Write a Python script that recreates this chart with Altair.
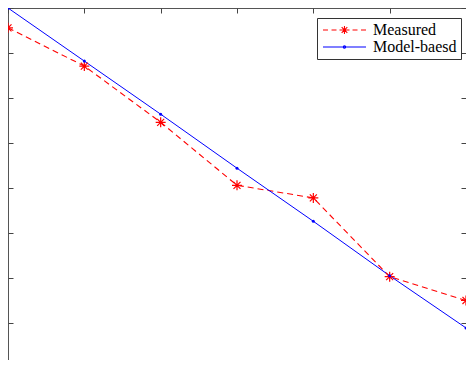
import altair as alt
import pandas as pd

# ---- data ----
x_vals = [0, 1, 2, 3, 4, 5, 6]
measured = [7.56, 6.71, 5.46, 4.06, 3.78, 2.03, 1.50]
model = [8.00, 6.82, 5.64, 4.44, 3.26, 2.05, 0.89]
series_names = ["Measured", "Model-baesd"]
series_colors = ["#ff0000", "#0000ff"]
x_ticks = [0, 1, 2, 3, 4, 5, 6]
y_ticks = [0, 1, 2, 3, 4, 5, 6, 7, 8]

df = pd.DataFrame({
    "x": x_vals + x_vals,
    "y": measured + model,
    "series": [series_names[0]] * len(x_vals) + [series_names[1]] * len(x_vals),
})

ASTERISK = "M-1,0L1,0M0,-1L0,1M-0.7,-0.7L0.7,0.7M-0.7,0.7L0.7,-0.7"
# legend symbols (unit = 6 px), drawn wider than the nominal symbol box
LEG_MEAS = ("M-1,0L-0.17,0M0.42,0L1.25,0M1.75,0L3.42,0M3.92,0L4.75,0M5.33,0L6.17,0"
            "M1.92,0L3.25,0M2.58,-0.67L2.58,0.67M2.11,-0.47L3.05,0.47M2.11,0.47L3.05,-0.47")
LEG_MODEL = ("M-1,0L6.17,0M2.38,0A0.2,0.2,0,1,0,2.78,0A0.2,0.2,0,1,0,2.38,0")

W, H = 458, 360
xs = alt.Scale(domain=[0, 6], nice=False, zero=False)
ys = alt.Scale(domain=[0, 8], nice=False, zero=False)

ax = dict(labels=False, domain=False, grid=False, ticks=True, tickSize=5,
          offset=-5, tickColor="#444", tickWidth=1, title=None)

base = alt.Chart(df)

frame_axes = base.mark_point(opacity=0).encode(
    x=alt.X("x:Q", scale=xs, axis=alt.Axis(orient="bottom", values=x_ticks, **ax)),
    y=alt.Y("y:Q", scale=ys, axis=alt.Axis(orient="left", values=y_ticks, **ax)),
)
frame_axes2 = base.mark_point(opacity=0).encode(
    x=alt.X("x:Q", scale=xs, axis=alt.Axis(orient="top", values=x_ticks, **ax)),
    y=alt.Y("y:Q", scale=ys, axis=alt.Axis(orient="right", values=y_ticks, **ax)),
)

xe = alt.X("x:Q", scale=xs, axis=None)
ye = alt.Y("y:Q", scale=ys, axis=None)

meas = base.transform_filter(alt.datum.series == series_names[0])
mod = base.transform_filter(alt.datum.series == series_names[1])

meas_line = meas.mark_line(color=series_colors[0], strokeWidth=1.1,
                           strokeDash=[6, 4]).encode(x=xe, y=ye)
meas_pts = meas.mark_point(shape=ASTERISK, filled=False, color=series_colors[0],
                           size=100, strokeWidth=1.2, opacity=1).encode(x=xe, y=ye)
mod_line = mod.mark_line(color=series_colors[1], strokeWidth=1).encode(x=xe, y=ye)
mod_pts = mod.mark_point(shape="circle", filled=True, color=series_colors[1],
                         size=9, opacity=1).encode(x=xe, y=ye)

legend_layer = base.mark_point(opacity=0, filled=False, size=144, strokeWidth=1.1).encode(
    x=xe, y=ye,
    color=alt.Color("series:N", scale=alt.Scale(domain=series_names, range=series_colors),
                    legend=alt.Legend(title=None)),
    shape=alt.Shape("series:N", scale=alt.Scale(domain=series_names, range=[LEG_MEAS, LEG_MODEL]),
                    legend=alt.Legend(title=None)),
)

chart = alt.layer(
    frame_axes, frame_axes2, meas_line, mod_line, meas_pts, mod_pts, legend_layer
).resolve_axis(x="independent", y="independent").properties(
    width=W, height=H,
    padding={"left": 0, "top": 0, "right": 0, "bottom": -8},
    autosize=alt.AutoSizeParams(type="none"),
).configure_view(stroke="#555", strokeWidth=1).configure_legend(
    orient="none", legendX=309, legendY=10,
    strokeColor="#333", fillColor="white", padding=4,
    symbolSize=144, symbolOpacity=1, symbolStrokeWidth=1.1,
    labelFont="Liberation Serif", labelFontSize=16, labelColor="black",
    labelOffset=36, rowPadding=1, cornerRadius=0,
)

chart.save("out.html", embed_options={"renderer": "svg", "actions": False})
